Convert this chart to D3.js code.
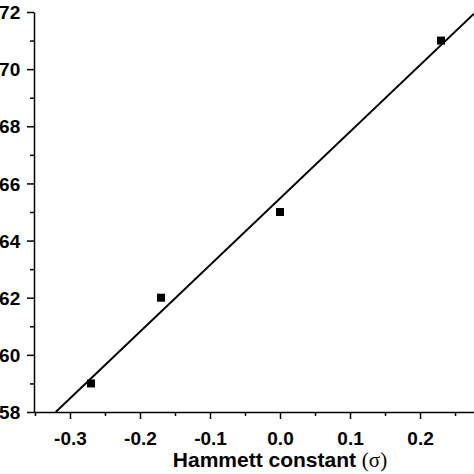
<!DOCTYPE html>
<html><head><meta charset="utf-8">
<script src="https://cdn.jsdelivr.net/npm/d3@7"></script>
<style>body{margin:0;background:#fff}text{font-family:"Liberation Sans",Arial,sans-serif}</style>
</head><body><div id="chart"></div>
<script>
var sigma = [-0.27, -0.17, 0.0, 0.23];
var yVals = [59, 62, 65, 71];
var xTicks = [-0.3, -0.2, -0.1, 0.0, 0.1, 0.2];
var yTicks = [58, 60, 62, 64, 66, 68, 70, 72];

var W = 474, H = 474;
var mLeft = 34, mRight = 474, mTop = 12, mBottom = 412;

var svg = d3.select('#chart').append('svg').attr('width', W).attr('height', H);

var x = d3.scaleLinear().domain([-0.3514, 0.2771]).range([mLeft, mRight]);
var y = d3.scaleLinear().domain([58, 72]).range([mBottom, mTop]);
var fmt = d => d3.format('.1f')(d).replace('−', '-');

// minor ticks
svg.append('g').attr('transform', `translate(0,${mBottom})`)
    .call(d3.axisBottom(x).tickValues([-0.35, -0.25, -0.15, -0.05, 0.05, 0.15, 0.25]).tickSize(4).tickFormat(''))
    .call(g => g.select('.domain').remove());
svg.append('g').attr('transform', `translate(${mLeft},0)`)
    .call(d3.axisLeft(y).tickValues([59, 61, 63, 65, 67, 69, 71]).tickSize(4).tickFormat(''))
    .call(g => g.select('.domain').remove());

var xAxis = svg.append('g').attr('transform', `translate(0,${mBottom})`)
    .call(d3.axisBottom(x).tickValues(xTicks).tickSize(7).tickSizeOuter(0).tickFormat(fmt));
var yAxis = svg.append('g').attr('transform', `translate(${mLeft},0)`)
    .call(d3.axisLeft(y).tickValues(yTicks).tickSize(7).tickSizeOuter(0));

svg.selectAll('.domain, .tick line').attr('stroke', '#000').attr('stroke-width', 1.5);
xAxis.selectAll('text').attr('font-size', 19).attr('font-weight', 'bold').attr('dy', '1.2em').attr('fill', '#000');
yAxis.selectAll('text').attr('font-size', 19).attr('font-weight', 'bold').attr('dx', '-0.2em').attr('dy', '0.35em').attr('fill', '#000');

// linear fit
var mx = d3.mean(sigma), my = d3.mean(yVals);
var sxy = d3.sum(sigma, (s, i) => (s - mx) * (yVals[i] - my));
var sxx = d3.sum(sigma, s => (s - mx) * (s - mx));
var slope = sxy / sxx, icpt = my - slope * mx;
var x0 = (58 - icpt) / slope, x1 = 0.2771;
svg.append('defs').append('clipPath').attr('id', 'clip').append('rect')
    .attr('x', mLeft).attr('y', 0).attr('width', mRight - mLeft).attr('height', mBottom);
svg.append('line').attr('clip-path', 'url(#clip)')
    .attr('x1', x(x0)).attr('y1', y(icpt + slope * x0))
    .attr('x2', x(x1)).attr('y2', y(icpt + slope * x1))
    .attr('stroke', '#000').attr('stroke-width', 2);

svg.selectAll('.pt').data(sigma).enter().append('rect')
    .attr('x', d => x(d) - 4).attr('y', (d, i) => y(yVals[i]) - 4)
    .attr('width', 8).attr('height', 8).attr('fill', '#000');

var t = svg.append('text').attr('x', 280).attr('y', 467).attr('text-anchor', 'middle')
    .attr('font-size', 21).attr('fill', '#000');
t.append('tspan').attr('font-weight', 'bold').text('Hammett constant ');
t.append('tspan').attr('font-family', '"Liberation Serif",serif').text('(σ)');
</script></body></html>
